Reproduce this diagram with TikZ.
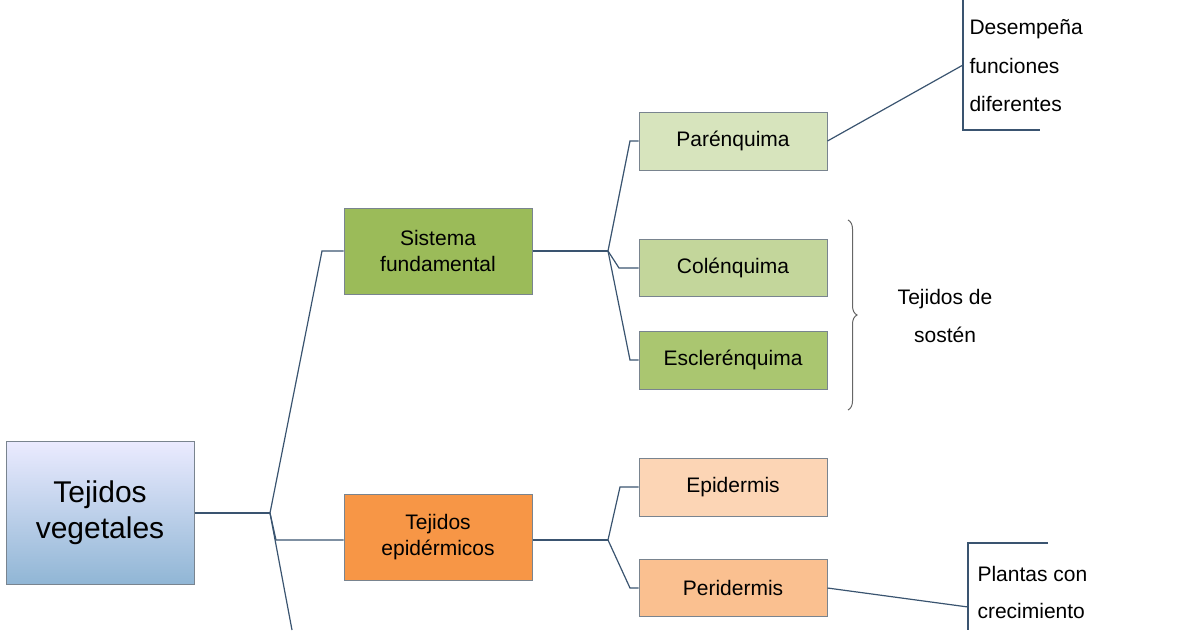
\documentclass[tikz,border=0pt]{standalone}
\usepackage{fontspec}
\setmainfont{Liberation Sans}
\usetikzlibrary{decorations.pathreplacing}
\definecolor{bord}{HTML}{3F4F5F}
\definecolor{lineC}{HTML}{3A5470}
\tikzset{
 box/.style={draw=bord!70,line width=1pt,minimum width=188pt,inner sep=0pt,align=center,font=\fontsize{21}{26}\selectfont},
 conn/.style={draw=lineC,line width=1.2pt},
}
\begin{document}
\begin{tikzpicture}[x=1pt,y=-1pt]
\useasboundingbox (0,0) rectangle (1188,630);
\node[box,minimum width=188pt,minimum height=143pt,top color=blue!8!white,bottom color=blue!45!cyan!45!gray!60,font=\fontsize{30}{36}\selectfont] (tv) at (100,513) {Tejidos\\vegetales};
\node[box,minimum height=86pt,fill={rgb,255:red,155;green,187;blue,89}] (sf) at (438,251) {Sistema\\fundamental};
\node[box,minimum height=86pt,fill={rgb,255:red,247;green,150;blue,70}] (te) at (438,537) {Tejidos\\epidérmicos};
\node[box,minimum height=58pt,fill={rgb,255:red,215;green,228;blue,189}] (pa) at (733,141) {Parénquima};
\node[box,minimum height=57pt,fill={rgb,255:red,195;green,214;blue,155}] (co) at (733,268) {Colénquima};
\node[box,minimum height=58pt,fill={rgb,255:red,170;green,198;blue,112}] (es) at (733,360) {Esclerénquima};
\node[box,minimum height=58pt,fill={rgb,255:red,252;green,213;blue,181}] (ep) at (733,487) {Epidermis};
\node[box,minimum height=57pt,fill={rgb,255:red,250;green,192;blue,144}] (pe) at (733,588) {Peridermis};
% trunk
\coordinate (j0) at (270,513);
\coordinate (j1) at (608,251);
\coordinate (j2) at (608,540);
\draw[conn] (tv.east) -- (j0);
\draw[conn] (j0) -- (322,251) -- (sf.west);
\draw[conn] (j0) -- (276,540) -- (te.west |- 0,540);
\draw[conn] (j0) -- (292,630);
\draw[conn] (sf.east) -- (j1);
\draw[conn] (j1) -- (630,141) -- (pa.west);
\draw[conn] (j1) -- (619,268) -- (co.west);
\draw[conn] (j1) -- (630,360) -- (es.west);
\draw[conn] (te.east |- 0,540) -- (j2);
\draw[conn] (j2) -- (620,487) -- (ep.west);
\draw[conn] (j2) -- (630,588) -- (pe.west);
% brace
\draw[conn,line width=1pt,draw=gray!80!black,decorate,decoration={brace,amplitude=9pt}] (848,220) -- (848,410);
\node[font=\fontsize{21}{38}\selectfont,align=center] (ts) at (945,316) {Tejidos de\\sostén};
% annotations
\coordinate (a1) at (963,65);
\draw[conn] (pa.east) -- (a1);
\draw[conn] (963,0) -- (963,130) -- (1040,130);
\node[anchor=west,align=left,font=\fontsize{21}{38.5}\selectfont] (df) at (966,66) {Desempeña\\funciones\\diferentes};
\coordinate (a2) at (968,607);
\draw[conn] (pe.east) -- (a2);
\draw[conn] (1048,543) -- (968,543) -- (968,630);
\node[anchor=west,align=left,font=\fontsize{21}{37}\selectfont] (pc) at (974,592) {Plantas con\\crecimiento};
\end{tikzpicture}
\end{document}
